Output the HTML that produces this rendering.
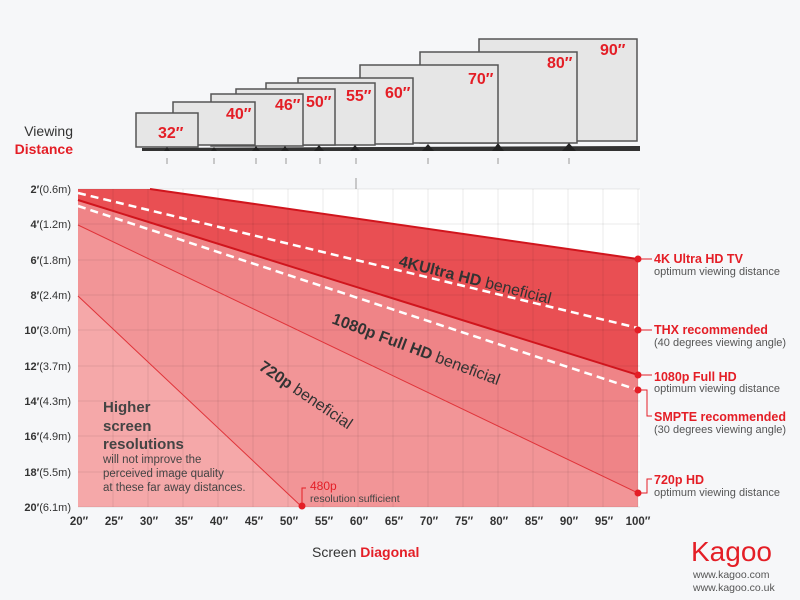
<!DOCTYPE html>
<html><head><meta charset="utf-8"><style>
html,body{margin:0;padding:0;background:#f6f7f9;}
svg{display:block;font-family:"Liberation Sans",sans-serif;}
</style></head><body>
<svg width="800" height="600" viewBox="0 0 800 600" xmlns="http://www.w3.org/2000/svg">
<rect width="800" height="600" fill="#f6f7f9"/>
<g fill="#e6e6e6" stroke="#555" stroke-width="1.5">
<rect x="479" y="39" width="158" height="102"/>
<rect x="420" y="52" width="157" height="91"/>
<rect x="360" y="65" width="138" height="78"/>
<rect x="298" y="78" width="115" height="66"/>
<rect x="266" y="83" width="109" height="62"/>
<rect x="236" y="89" width="99" height="56"/>
<rect x="211" y="94" width="92" height="52"/>
<rect x="173" y="102" width="82" height="43"/>
<rect x="136" y="113" width="62" height="34"/>
</g>
<polygon points="142,148 640,146 640,151 142,151" fill="#333"/>
<g fill="#222">
<path d="M164,151 l3,-4 l3,4z"/><path d="M211,151 l3,-4 l3,4z"/><path d="M252,151 l4,-5 l4,5z"/><path d="M281,151 l4,-5 l4,5z"/><path d="M314,151 l5,-6 l5,6z"/><path d="M350,151 l5,-6 l5,6z"/><path d="M422,151 l6,-7 l6,7z"/><path d="M492,151 l6,-8 l6,8z"/><path d="M562,151 l7,-8 l7,8z"/>
</g>
<g stroke="#999" stroke-width="1">
<line x1="167" y1="158" x2="167" y2="164"/><line x1="214" y1="158" x2="214" y2="164"/><line x1="256" y1="158" x2="256" y2="164"/><line x1="286" y1="158" x2="286" y2="164"/><line x1="320" y1="158" x2="320" y2="164"/><line x1="356" y1="158" x2="356" y2="164"/><line x1="428" y1="158" x2="428" y2="164"/><line x1="498" y1="158" x2="498" y2="164"/><line x1="569" y1="158" x2="569" y2="164"/>
<line x1="356" y1="178" x2="356" y2="189"/>
</g>
<g fill="#e41e26" font-weight="bold" font-size="16">
<text x="158" y="138">32″</text><text x="226" y="119">40″</text><text x="275" y="110">46″</text><text x="306" y="107">50″</text><text x="346" y="101">55″</text><text x="385" y="98">60″</text><text x="468" y="84">70″</text><text x="547" y="68">80″</text><text x="600" y="55">90″</text>
</g>
<text x="73" y="136" text-anchor="end" font-size="14" fill="#333">Viewing</text>
<text x="73" y="154" text-anchor="end" font-size="14" font-weight="bold" fill="#e41e26">Distance</text>
<rect x="78" y="189" width="562" height="318" fill="#fff"/>
<polygon points="78,189 150,189 638,259 638,507 78,507" fill="#e94f53"/>
<polygon points="78,200 638,375 638,507 78,507" fill="#ef8487"/>
<polygon points="78,225 638,493 638,507 78,507" fill="#f29597"/>
<polygon points="78,296 302,507 78,507" fill="#f5a8a9"/>
<g stroke="#000" stroke-opacity="0.08" stroke-width="1">
<line x1="113" y1="189" x2="113" y2="507"/><line x1="148" y1="189" x2="148" y2="507"/><line x1="183" y1="189" x2="183" y2="507"/><line x1="218" y1="189" x2="218" y2="507"/><line x1="253" y1="189" x2="253" y2="507"/><line x1="288" y1="189" x2="288" y2="507"/><line x1="323" y1="189" x2="323" y2="507"/><line x1="358" y1="189" x2="358" y2="507"/><line x1="393" y1="189" x2="393" y2="507"/><line x1="428" y1="189" x2="428" y2="507"/><line x1="463" y1="189" x2="463" y2="507"/><line x1="498" y1="189" x2="498" y2="507"/><line x1="533" y1="189" x2="533" y2="507"/><line x1="568" y1="189" x2="568" y2="507"/><line x1="603" y1="189" x2="603" y2="507"/><line x1="638" y1="189" x2="638" y2="507"/>
<line x1="78" y1="189" x2="640" y2="189"/><line x1="78" y1="224" x2="640" y2="224"/><line x1="78" y1="260" x2="640" y2="260"/><line x1="78" y1="295" x2="640" y2="295"/><line x1="78" y1="330" x2="640" y2="330"/><line x1="78" y1="366" x2="640" y2="366"/><line x1="78" y1="401" x2="640" y2="401"/><line x1="78" y1="436" x2="640" y2="436"/><line x1="78" y1="472" x2="640" y2="472"/><line x1="78" y1="507" x2="640" y2="507"/>
</g>
<g stroke="#d0151d" stroke-width="2" fill="none">
<line x1="150" y1="189" x2="638" y2="259"/>
<line x1="78" y1="200" x2="638" y2="375"/>
</g>
<g stroke="#e0343a" stroke-width="1" fill="none">
<line x1="78" y1="225" x2="638" y2="493"/>
<line x1="78" y1="296" x2="302" y2="507"/>
</g>
<g stroke="#fff" stroke-width="2.5" stroke-dasharray="8,5" fill="none">
<line x1="78" y1="193" x2="638" y2="328"/>
<line x1="78" y1="206" x2="638" y2="390"/>
</g>
<g fill="#333" font-size="16">
<text transform="translate(398,266) rotate(14)"><tspan font-weight="bold">4KUltra HD</tspan> beneficial</text>
<text transform="translate(331,323) rotate(20.5)"><tspan font-weight="bold">1080p Full HD</tspan> beneficial</text>
<text transform="translate(258,369) rotate(34)"><tspan font-weight="bold">720p</tspan> beneficial</text>
</g>
<g fill="#444">
<text x="103" y="412" font-size="15" font-weight="bold">Higher</text>
<text x="103" y="431" font-size="15" font-weight="bold">screen</text>
<text x="103" y="449" font-size="15" font-weight="bold">resolutions</text>
<text x="103" y="463" font-size="11.5">will not improve the</text>
<text x="103" y="477" font-size="11.5">perceived image quality</text>
<text x="103" y="491" font-size="11.5">at these far away distances.</text>
</g>
<circle cx="302" cy="506" r="3.5" fill="#e41e26"/>
<path d="M302,503 V488 H306" stroke="#e41e26" fill="none"/>
<text x="310" y="490" font-size="12" fill="#e41e26">480p</text>
<text x="310" y="502" font-size="10.5" fill="#444">resolution sufficient</text>
<g fill="#e41e26">
<circle cx="638" cy="259" r="3.5"/><circle cx="638" cy="330" r="3.5"/><circle cx="638" cy="375" r="3.5"/><circle cx="638" cy="390" r="3.5"/><circle cx="638" cy="493" r="3.5"/>
</g>
<g stroke="#e41e26" fill="none">
<path d="M638,259 H652"/><path d="M638,330 H652"/><path d="M638,375 H652"/>
<path d="M638,390 H647 V416 H652"/><path d="M638,493 H647 V479 H652"/>
</g>
<g font-size="12.5" fill="#e41e26" font-weight="bold">
<text x="654" y="263">4K Ultra HD TV</text>
<text x="654" y="334">THX recommended</text>
<text x="654" y="381">1080p Full HD</text>
<text x="654" y="421">SMPTE recommended</text>
<text x="654" y="484">720p HD</text>
</g>
<g font-size="11" fill="#555">
<text x="654" y="275">optimum viewing distance</text>
<text x="654" y="346">(40 degrees viewing angle)</text>
<text x="654" y="392">optimum viewing distance</text>
<text x="654" y="433">(30 degrees viewing angle)</text>
<text x="654" y="496">optimum viewing distance</text>
</g>
<g font-size="11" fill="#333" text-anchor="end">
<text x="71" y="193"><tspan font-weight="bold">2′</tspan>(0.6m)</text>
<text x="71" y="228"><tspan font-weight="bold">4′</tspan>(1.2m)</text>
<text x="71" y="264"><tspan font-weight="bold">6′</tspan>(1.8m)</text>
<text x="71" y="299"><tspan font-weight="bold">8′</tspan>(2.4m)</text>
<text x="71" y="334"><tspan font-weight="bold">10′</tspan>(3.0m)</text>
<text x="71" y="370"><tspan font-weight="bold">12′</tspan>(3.7m)</text>
<text x="71" y="405"><tspan font-weight="bold">14′</tspan>(4.3m)</text>
<text x="71" y="440"><tspan font-weight="bold">16′</tspan>(4.9m)</text>
<text x="71" y="476"><tspan font-weight="bold">18′</tspan>(5.5m)</text>
<text x="71" y="511"><tspan font-weight="bold">20′</tspan>(6.1m)</text>
</g>
<g font-size="11.5" font-weight="bold" fill="#333" text-anchor="middle">
<text x="79" y="525">20″</text><text x="114" y="525">25″</text><text x="149" y="525">30″</text><text x="184" y="525">35″</text><text x="219" y="525">40″</text><text x="254" y="525">45″</text><text x="289" y="525">50″</text><text x="324" y="525">55″</text><text x="359" y="525">60″</text><text x="394" y="525">65″</text><text x="429" y="525">70″</text><text x="464" y="525">75″</text><text x="499" y="525">80″</text><text x="534" y="525">85″</text><text x="569" y="525">90″</text><text x="604" y="525">95″</text><text x="638" y="525">100″</text>
</g>
<text x="312" y="557" font-size="14" fill="#333">Screen <tspan font-weight="bold" fill="#e41e26">Diagonal</tspan></text>
<text x="691" y="561" font-size="28" fill="#e41e26">Kagoo</text>
<text x="693" y="578" font-size="10.5" fill="#555">www.kagoo.com</text>
<text x="693" y="591" font-size="10.5" fill="#555">www.kagoo.co.uk</text>
</svg>
</body></html>
